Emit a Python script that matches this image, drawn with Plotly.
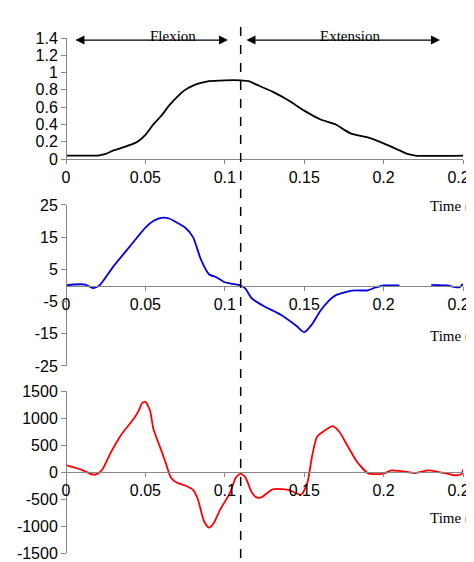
import plotly.graph_objects as go

t1 = [0,0.01,0.02,0.025,0.03,0.04,0.045,0.05,0.055,0.06,0.065,0.07,0.075,0.08,0.085,0.09,0.1,0.11,0.115,0.12,0.13,0.14,0.15,0.16,0.17,0.175,0.18,0.19,0.2,0.21,0.215,0.22,0.25]
v1 = [0.04,0.04,0.04,0.06,0.1,0.16,0.2,0.28,0.4,0.5,0.62,0.72,0.8,0.85,0.88,0.9,0.91,0.91,0.9,0.86,0.78,0.68,0.56,0.46,0.4,0.34,0.29,0.25,0.18,0.1,0.06,0.04,0.04]

t2 = [0,0.005,0.012,0.017,0.02,0.022,0.03,0.04,0.05,0.055,0.06,0.065,0.07,0.075,0.08,0.085,0.09,0.095,0.1,0.105,0.11,0.113,0.117,0.125,0.135,0.145,0.15,0.155,0.16,0.165,0.17,0.18,0.19,0.195,0.2,0.21,0.22,0.23,0.24,0.245,0.248,0.25]
v2 = [0,0.3,0.3,-0.8,-0.3,0.5,6,12,18,20,21,20.8,19.5,18,15,8,3.5,2.5,1,0.5,0,-1,-4,-6.5,-9,-12.5,-14.5,-12,-8,-5,-3,-1.6,-1.5,-0.6,0,0,None,0.2,0,-0.5,-0.5,0.5]

t3 = [0,0.01,0.017,0.02,0.023,0.028,0.035,0.043,0.046,0.048,0.05,0.053,0.055,0.06,0.063,0.066,0.07,0.075,0.08,0.083,0.087,0.09,0.093,0.097,0.103,0.107,0.11,0.113,0.117,0.12,0.123,0.13,0.14,0.148,0.152,0.155,0.158,0.162,0.168,0.172,0.177,0.183,0.19,0.195,0.2,0.205,0.21,0.22,0.228,0.235,0.24,0.245,0.249,0.25]
v3 = [130,40,-50,-30,50,350,700,1000,1150,1280,1300,1130,800,400,150,-100,-200,-250,-330,-500,-920,-1030,-950,-700,-400,-100,-30,-100,-380,-470,-470,-320,-330,-420,-200,300,650,750,850,750,500,200,-20,-40,-30,30,20,-20,30,0,-30,-60,-40,50]

xticks = [0,0.05,0.1,0.15,0.2,0.25]
xtext = ["0","0.05","0.1","0.15","0.2","0.25"]
y1ticks = [0,0.2,0.4,0.6,0.8,1,1.2,1.4]
y1text = ["0","0.2","0.4","0.6","0.8","1","1.2","1.4"]
y2ticks = [25,15,5,-5,-15,-25]
y2text = ["25","15","5","-5","-15","-25"]
y3ticks = [1500,1000,500,0,-500,-1000,-1500]
y3text = ["1500","1000","500","0","-500","-1000","-1500"]

fig = go.Figure()
fig.add_trace(go.Scatter(x=t1, y=v1, mode="lines", line=dict(color="black", width=1.8, shape="spline", smoothing=0.6), xaxis="x", yaxis="y"))
fig.add_trace(go.Scatter(x=t2, y=v2, mode="lines", line=dict(color="#0000dd", width=1.8, shape="spline", smoothing=0.6), xaxis="x2", yaxis="y2", connectgaps=False))
fig.add_trace(go.Scatter(x=t3, y=v3, mode="lines", line=dict(color="red", width=1.8, shape="spline", smoothing=0.6), xaxis="x3", yaxis="y3"))

font = dict(family="Liberation Sans, Arial", size=16, color="black")
serif = dict(family="Liberation Serif, Times New Roman", size=15, color="black")
xa = dict(range=[0,0.25], tickvals=xticks, ticktext=xtext, showline=True, linecolor="#888", ticks="outside",
          ticklen=4, tickcolor="#888", showgrid=False, zeroline=False, tickfont=font, anchor="free", automargin=False)
ya = dict(showline=True, linecolor="#888", ticks="outside", ticklen=5, tickcolor="#888", showgrid=False,
          zeroline=False, tickfont=font, anchor="free", position=0, automargin=False)

fig.update_layout(
    width=474, height=562, margin=dict(l=58, r=19, t=0, b=0, autoexpand=False),
    plot_bgcolor="white", paper_bgcolor="white", showlegend=False,
    xaxis=dict(xa, position=0.7313),
    xaxis2=dict(xa, position=0.5062),
    xaxis3=dict(xa, position=0.1744),
    yaxis=dict(ya, domain=[0.7313, 0.9466], range=[0,1.4], tickvals=y1ticks, ticktext=y1text),
    yaxis2=dict(ya, domain=[0.363, 0.6495], range=[-25,25], tickvals=y2ticks, ticktext=y2text),
    yaxis3=dict(ya, domain=[0.0302, 0.3185], range=[-1500,1500], tickvals=y3ticks, ticktext=y3text),
)

fig.add_shape(type="line", xref="x", yref="paper", x0=0.11, x1=0.11, y0=0.0214, y1=0.979,
              line=dict(color="black", width=1.5, dash="dash"))

for (a, b) in [(0.005, 0.102), (0.1127, 0.2355)]:
    fig.add_annotation(x=b, y=0.943, xref="x", yref="paper", ax=a, ay=0, axref="x", ayref="pixel",
                       text="", showarrow=True, arrowhead=2, arrowside="end+start", arrowwidth=1.2,
                       arrowsize=1.5, arrowcolor="black")
fig.add_annotation(x=0.0674, y=0.968, xref="x", yref="paper", text="Flexion", showarrow=False, font=serif)
fig.add_annotation(x=0.179, y=0.968, xref="x", yref="paper", text="Extension", showarrow=False, font=serif)
for yy in [0.646, 0.4146, 0.0925]:
    fig.add_annotation(x=0.912, y=yy, xref="paper", yref="paper", text="Time (s)", showarrow=False,
                       xanchor="left", yanchor="middle", font=serif)

fig.write_html("out.html")
